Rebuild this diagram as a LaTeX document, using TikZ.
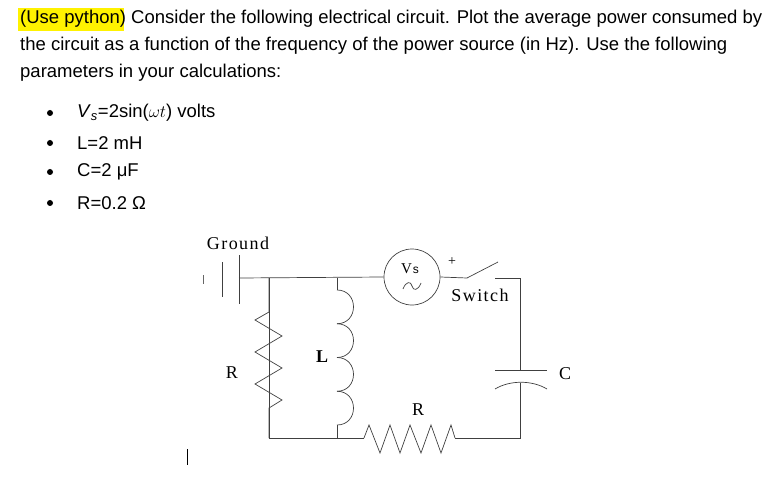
\documentclass[tikz,border=0pt]{standalone}
\usepackage{fontspec}
\setmainfont{Liberation Sans}
\newfontfamily\cfont[LetterSpace=8]{Liberation Serif}
\begin{document}
\begin{tikzpicture}[x=1pt,y=-1pt,
  wire/.style={draw=black!75,line width=0.7pt},
  txt/.style={anchor=west,inner sep=0pt,font=\fontsize{18.5}{22}\selectfont},
  clab/.style={inner sep=0pt,font=\cfont\fontsize{18}{21}\selectfont}]
\useasboundingbox (0,0) rectangle (777,484);
\fill[yellow] (18,8) rectangle (124,31);
\node[txt] (l1) at (20,19) {(Use python) Consider the following electrical circuit. Plot the average power consumed by};
\node[txt] (l2) at (20,46) {the circuit as a function of the frequency of the power source (in Hz). Use the following};
\node[txt] (l3) at (20,73) {parameters in your calculations:};
\foreach \y/\t [count=\i] in {113/{\textit{V}\textsubscript{\textit{s}}=2sin($\omega t$) volts},143/{L=2 mH},172/{C=2 μF},203/{R=0.2 Ω}}{
  \fill (50,\y) circle (3);
  \node[txt] (b\i) at (77,\y) {\t};
}
% circuit
\coordinate (gnd) at (239,278);
\coordinate (jr) at (269,278);
\coordinate (jl) at (337,278);
\coordinate (br) at (269,438);
\coordinate (bl) at (337,438);
\coordinate (brr) at (520,438);
\coordinate (sw) at (467,278);
\coordinate (sc) at (495,278);
\coordinate (tr) at (520,278);
\node[circle,draw=black!75,line width=0.7pt,minimum size=56pt,inner sep=0pt] (vs) at (412,277) {};
\node[inner sep=0pt,font=\fontsize{15}{17}\selectfont] (vsl) at (410,269) {\cfont V\kern1pt{\normalfont\fontsize{12}{14}\selectfont s}};
\draw[wire] (403,289) .. controls (406,281) and (411,281) .. (412,286) .. controls (413,291) and (418,291) .. (421,283);
\draw[wire] (222,262) -- (222,297);
\draw[wire] (239,255) -- (239,304);
\draw[black!60,line width=0.6pt] (203,275) -- (203,284);
\draw[wire] (gnd) -- (vs.west);
\draw[wire] (vs.east) -- (sw) -- (498,262);
\draw[wire] (sc) -- (tr) -- (520,370);
\draw[wire] (495,370) -- (547,370);
\draw[wire] (495,389) .. controls (510,380) and (532,380) .. (547,389);
\draw[wire] (520,383) -- (brr) -- (455,438);
\draw[wire] (455,438) -- (451,425) -- (441,453) -- (431,425) -- (421,453) -- (410,425) -- (400,453) -- (390,425) -- (380,453) -- (369,425) -- (364,438);
\draw[wire] (364,438) -- (br) -- (jr);
\draw[wire] (jr) -- (269,312) -- (255,320) -- (282,336) -- (255,352) -- (282,368) -- (255,384) -- (282,400) -- (269,408) -- (br);
\draw[wire] (jl) -- (337,290);
\foreach \k in {0,1,2,3}{
  \draw[wire] (337,290+33.75*\k) .. controls (359,290+33.75*\k) and (359,323.75+33.75*\k) .. (337,323.75+33.75*\k);
}
\draw[wire] (337,425) -- (bl);
\node[clab] (gl) at (238,243) {Ground};
\node[clab] (rl) at (232,373) {R};
\node[clab,font=\cfont\bfseries\fontsize{18}{21}\selectfont] (ll) at (322,357) {L};
\node[clab,font=\cfont\fontsize{14}{16}\selectfont] (pl) at (452,262) {+};
\node[clab] (swl) at (480,295) {Switch};
\node[clab] (cl) at (565,374) {C};
\node[clab] (r2l) at (418,410) {R};
\draw[line width=0.8pt] (187,449) -- (187,465);
\end{tikzpicture}
\end{document}
